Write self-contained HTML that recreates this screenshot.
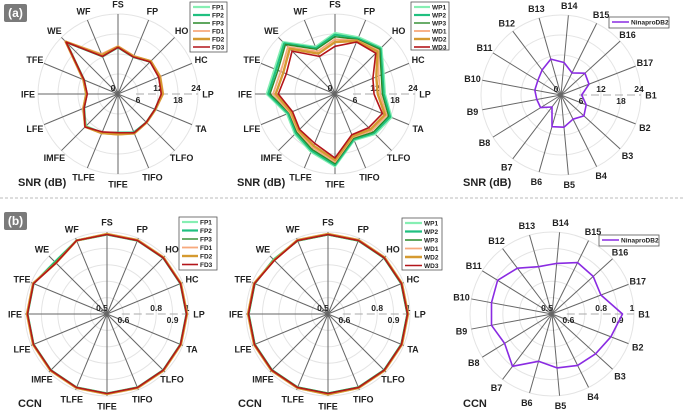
<!DOCTYPE html>
<html><head><meta charset="utf-8">
<style>
html,body{margin:0;padding:0;background:#fff;}
svg{display:block;font-family:"Liberation Sans",Arial,sans-serif;font-weight:bold;}
</style></head>
<body>
<svg id="fig" width="685" height="411" viewBox="0 0 685 411" xmlns="http://www.w3.org/2000/svg">
<line x1="0" y1="198" x2="685" y2="198" stroke="#bbb" stroke-dasharray="3,2" stroke-width="1"/>
<g><rect x="4" y="4" width="23" height="18" rx="2" fill="#7a7a7a"/><text x="15.5" y="17" fill="#fff" font-size="12" text-anchor="middle">(a)</text></g>
<g><rect x="4" y="212" width="23" height="18" rx="2" fill="#7a7a7a"/><text x="15.5" y="225" fill="#fff" font-size="12" text-anchor="middle">(b)</text></g>
</svg>
<script>
// ---------- data ----------
const axesGest = ["FS","FP","HO","HC","LP","TA","TLFO","TIFO","TIFE","TLFE","IMFE","LFE","IFE","TFE","WE","WF"];
const axesB = ["B1","B2","B3","B4","B5","B6","B7","B8","B9","B10","B11","B12","B13","B14","B15","B16","B17"];
const seriesNamesF = ["FP1","FP2","FP3","FD1","FD2","FD3"];
const seriesNamesW = ["WP1","WP2","WP3","WD1","WD2","WD3"];
const snrTicks = ["0","6","12","18","24"];
const ccnTicks = ["0.5","0.6","0.8","0.9","1"];
const snrFP1 = [14,12,13.8,13.6,13.4,12.2,12.1,12.6,11.6,12.6,13.6,11.2,9.6,11.2,22,12.3];
const snrFP2 = [14,12,13.7,13.4,13.2,12,12,12.5,11.6,12.6,13.8,11,9.4,11,22,12.2];
const snrFP3 = [14,12,13.6,13.2,13,12,12,12.6,11.7,12.4,14,11,9.3,11,22,12.2];
const snrFD1 = [14.4,12.4,14,13.8,13.6,12.2,12.2,12.8,12.2,12.8,14,11.4,9.6,11.4,22.4,13];
const snrFD2 = [14.2,12.2,13.9,13.6,13.4,12.1,12.1,12.8,12.1,12.7,13.9,11.2,9.5,11.2,22.2,12.6];
const snrFD3 = [14,12,13.6,13.2,13,12,12,12.6,11.6,12.3,14,11,9.2,11,22,12.2];
const snrWP1 = [18.3,18.4,19.7,15.8,15,18.3,17,15,21.7,18.8,17,15.6,20.5,19.6,22,15.3];
const snrWP2 = [17.8,18,19.3,15.4,14.6,17.9,16.6,14.7,21.3,18.4,16.6,15.2,20,19.1,21.5,14.9];
const snrWP3 = [17.2,17.7,19,15,14.2,17.4,16.2,14.4,20.9,18,16.2,14.8,19.5,18.5,21,14.5];
const snrWD1 = [16.4,17.4,18.5,14.2,13.6,16.8,15.6,14,20.4,17.4,15.8,14.6,18.6,17.6,20,13.8];
const snrWD2 = [15.6,17.2,18,13.4,12.8,16.2,15,13.7,19.8,16.8,15.4,14.2,17.8,16.8,19.2,13.1];
const snrWD3 = [14.3,16.9,17.3,12.3,11.7,15.4,14.3,13.2,19.2,16,15,13.8,17,15.8,18.2,12.2];
const snrDB2 = [6.2,8.1,9.3,8.1,9.7,9.9,4.5,7.2,7.4,8,8.2,9.4,11.2,9.8,7.4,9.7,9];
const ccnFP1 = [0.985,0.985,0.985,0.985,0.985,0.985,0.985,0.985,0.985,0.985,0.985,0.985,0.985,0.985,0.95,0.985];
const ccnFP2 = [0.985,0.985,0.985,0.985,0.985,0.985,0.985,0.985,0.985,0.985,0.985,0.985,0.985,0.985,0.948,0.985];
const ccnFP3 = [0.985,0.985,0.985,0.985,0.985,0.985,0.985,0.985,0.985,0.985,0.985,0.985,0.985,0.985,0.945,0.985];
const ccnFD1 = [0.99,0.99,0.99,0.99,0.99,0.99,0.99,0.99,0.99,0.99,0.99,0.99,0.99,0.99,0.94,0.985];
const ccnFD2 = [0.987,0.987,0.987,0.987,0.987,0.987,0.987,0.987,0.987,0.987,0.987,0.987,0.987,0.987,0.94,0.985];
const ccnFD3 = [0.985,0.985,0.985,0.985,0.985,0.985,0.985,0.985,0.985,0.985,0.985,0.985,0.985,0.985,0.94,0.985];
const ccnWP1 = [0.985,0.985,0.985,0.985,0.985,0.985,0.985,0.985,0.985,0.985,0.985,0.985,0.985,0.985,0.97,0.985];
const ccnWP2 = [0.984,0.984,0.984,0.984,0.984,0.984,0.984,0.984,0.984,0.984,0.984,0.984,0.984,0.984,0.968,0.984];
const ccnWP3 = [0.983,0.983,0.983,0.983,0.983,0.983,0.983,0.983,0.983,0.983,0.983,0.983,0.983,0.983,0.966,0.983];
const ccnWD1 = [0.99,0.99,0.99,0.99,0.99,0.99,0.99,0.99,0.99,0.99,0.99,0.99,0.99,0.99,0.965,0.99];
const ccnWD2 = [0.987,0.987,0.987,0.987,0.987,0.987,0.987,0.987,0.99,0.987,0.987,0.987,0.987,0.987,0.964,0.987];
const ccnWD3 = [0.985,0.985,0.985,0.985,0.985,0.985,0.985,0.985,0.985,0.985,0.985,0.985,0.985,0.985,0.962,0.985];
const ccnDB2 = [0.93,0.885,0.86,0.85,0.83,0.8,0.9,0.84,0.875,0.875,0.89,0.85,0.8,0.81,0.85,0.84,0.82];

const colors = ["#86efb3","#20c080","#2a8a2a","#f7a97c","#d59a30","#b3151a"];
const widths = [2.2,2.2,1.4,1.8,2.4,1.6];
const NS = "http://www.w3.org/2000/svg";
const svg = document.getElementById("fig");
function mk(tag, attrs, parent){const e=document.createElementNS(NS,tag);for(const k in attrs)e.setAttribute(k,attrs[k]);(parent||svg).appendChild(e);return e;}

function radar(cfg){
  const g = mk("g",{});
  
  
  const n = cfg.axes.length, R = cfg.R;
  const rScale = v => (v - cfg.min)/(cfg.max - cfg.min)*R;
  const ang = i => -i*2*Math.PI/n;
  const pt = (i,r)=>[cfg.cx + r*Math.cos(ang(i)+cfg.a0), cfg.cy - r*Math.sin(ang(i)+cfg.a0)];
  for(let k=1;k<=cfg.rings;k++){
    const c = mk("circle",{cx:cfg.cx,cy:cfg.cy,r:R*k/cfg.rings,fill:"none",stroke:"#e4e4e4","stroke-width":1},g);
    
    
  }
  cfg.axes.forEach((a,i)=>{
    const [x,y]=pt(i,R);
    const east = Math.abs(Math.sin(ang(i)+cfg.a0))<1e-6 && Math.cos(ang(i)+cfg.a0)>0;
    const l = mk("line",{x1:cfg.cx,y1:cfg.cy,x2:x,y2:y,stroke:"#666","stroke-width":1},g);
    if(east){l.setAttribute("stroke-dasharray","8,4");l.setAttribute("stroke","#aaa");l.setAttribute("x1",cfg.cx+R/cfg.rings*0.9);}
    
    
    const [lx,ly]=pt(i,R+10);
    const t = mk("text",{x:lx,y:ly+3.5,"font-size":9,"text-anchor":"middle",fill:"#222"},g);
    t.textContent=a;
    
    
  });
  cfg.ticks.forEach((tk,k)=>{
    const r = k===0?0:rScale(parseFloat(tk));
    const up = k%2===0;
    const t = mk("text",{x:cfg.cx + r - (k===0?5:0) + (k===cfg.ticks.length-1?-2:0),y:cfg.cy + (up?-3:9),"font-size":8.5,"text-anchor":"middle",fill:"#222"},g);
    t.textContent=tk;
    
    
  });
  cfg.series.forEach((vals,s)=>{
    const pts = vals.map((v,i)=>pt(i,rScale(v)).map(q=>q.toFixed(1)).join(",")).join(" ");
    const p = mk("polygon",{points:pts,fill:"none",stroke:cfg.colors[s],"stroke-width":cfg.widths[s],"stroke-linejoin":"round"},g);
    
    
  });
  const L = cfg.legend;
  const lg = mk("g",{},g);
  
  
  mk("rect",{x:L.x,y:L.y,width:L.w,height:L.h,fill:"#fff",stroke:"#555","stroke-width":0.8},lg);
  cfg.names.forEach((nm,s)=>{
    const yy = L.y + 5 + s*L.step;
    const ln = mk("line",{x1:L.x+3,y1:yy,x2:L.x+L.lw,y2:yy,stroke:cfg.colors[s],"stroke-width":cfg.widths[s]},lg);
    
    
    const t = mk("text",{x:L.x+L.lw+2,y:yy+2.5,"font-size":6.5,fill:"#222"},lg);
    t.textContent=nm;
    
    
  });
  const tt = mk("text",{x:cfg.tx,y:cfg.ty,"font-size":11,fill:"#222"},g);
  tt.textContent=cfg.title;
  
  
}
const gestRot = 4*2*Math.PI/16;
const legF = {w:37,h:50,step:8,lw:20};
radar({name:"radar-snr-f",axes:axesGest,a0:gestRot,cx:118,cy:94,R:80,min:0,max:24,rings:4,ticks:snrTicks,
  series:[snrFP1,snrFP2,snrFP3,snrFD1,snrFD2,snrFD3],names:seriesNamesF,colors,widths,
  legend:Object.assign({x:190,y:2},legF),title:"SNR (dB)",tx:18,ty:186});
radar({name:"radar-snr-w",axes:axesGest,a0:gestRot,cx:335,cy:94,R:80,min:0,max:24,rings:4,ticks:snrTicks,
  series:[snrWP1,snrWP2,snrWP3,snrWD1,snrWD2,snrWD3],names:seriesNamesW,colors,widths,
  legend:{x:411,y:2,w:38,h:48,step:8,lw:19},title:"SNR (dB)",tx:237,ty:186});
radar({name:"radar-snr-db2",axes:axesB,a0:0,cx:561,cy:95,R:80,min:0,max:24,rings:4,ticks:snrTicks,
  series:[snrDB2],names:["NinaproDB2"],colors:["#8a2be2"],widths:[1.6],
  legend:{x:609,y:17,w:60,h:11,step:8,lw:20},title:"SNR (dB)",tx:463,ty:186});
radar({name:"radar-ccn-f",axes:axesGest,a0:gestRot,cx:107,cy:314,R:82,min:0.5,max:1,rings:5,ticks:ccnTicks,
  series:[ccnFP1,ccnFP2,ccnFP3,ccnFD1,ccnFD2,ccnFD3],names:seriesNamesF,colors,widths,
  legend:{x:179,y:217,w:38,h:53,step:8.5,lw:19},title:"CCN",tx:18,ty:407});
radar({name:"radar-ccn-w",axes:axesGest,a0:gestRot,cx:328,cy:314,R:82,min:0.5,max:1,rings:5,ticks:ccnTicks,
  series:[ccnWP1,ccnWP2,ccnWP3,ccnWD1,ccnWD2,ccnWD3],names:seriesNamesW,colors,widths,
  legend:{x:402,y:218,w:40,h:52,step:8.5,lw:20},title:"CCN",tx:238,ty:407});
radar({name:"radar-ccn-db2",axes:axesB,a0:0,cx:552,cy:314,R:82,min:0.5,max:1,rings:5,ticks:ccnTicks,
  series:[ccnDB2],names:["NinaproDB2"],colors:["#8a2be2"],widths:[1.6],
  legend:{x:599,y:235,w:60,h:11,step:8,lw:20},title:"CCN",tx:463,ty:407});
</script>
</body></html>
